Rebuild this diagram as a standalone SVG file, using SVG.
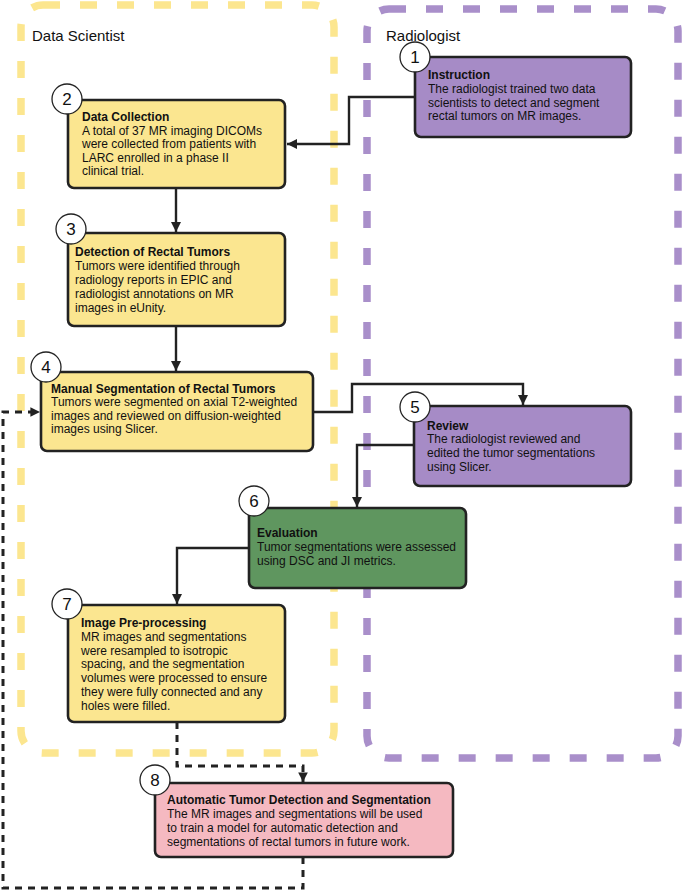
<svg xmlns="http://www.w3.org/2000/svg" width="685" height="893" viewBox="0 0 685 893">
<defs>
<style>
text{font-family:"Liberation Sans",Arial,sans-serif;fill:#111}
.lane{fill:none;stroke-width:7.5;stroke-dasharray:17 20}
.box{stroke:#222;stroke-width:2.6}
.t{font-size:12px}
.b{font-weight:bold}
.num{fill:#fff;stroke:#222;stroke-width:1.3}
.n{font-size:17px;text-anchor:middle}
.c{fill:none;stroke:#222;stroke-width:2.4}
.d{fill:none;stroke:#222;stroke-width:3;stroke-dasharray:7 6}
.hd{font-size:15px}
</style>
<marker id="ah" viewBox="0 0 10 10" refX="10" refY="5" markerWidth="4.2" markerHeight="4.2" orient="auto" markerUnits="strokeWidth"><path d="M0,0 L10,5 L0,10 z" fill="#222"/></marker>
<marker id="ahd" viewBox="0 0 10 10" refX="10" refY="5" markerWidth="3.2" markerHeight="3.2" orient="auto" markerUnits="strokeWidth"><path d="M0,0 L10,5 L0,10 z" fill="#222"/></marker>
</defs>
<rect width="685" height="893" fill="#fff"/>
<g id="lanes">
<rect class="lane" x="21" y="5" width="313" height="748" rx="22" stroke="#fce68f"/>
<rect class="lane" x="367" y="9" width="311" height="749" rx="22" stroke="#a98fca"/>
<text class="hd" x="32" y="41">Data Scientist</text>
<text class="hd" x="386" y="41">Radiologist</text>
</g>
<g id="connectors">
<path class="c" d="M415,97 H349 V144 H287" marker-end="url(#ah)"/>
<path class="c" d="M176,188 V232" marker-end="url(#ah)"/>
<path class="c" d="M176,326 V371" marker-end="url(#ah)"/>
<path class="c" d="M313,412 H352 V384 H523 V405" marker-end="url(#ah)"/>
<path class="c" d="M414,445 H357 V507" marker-end="url(#ah)"/>
<path class="c" d="M249,548 H177 V604" marker-end="url(#ah)"/>
<path class="d" d="M177,722 V766 H303 V782" marker-end="url(#ahd)"/>
<path class="d" d="M303,857 V888 H3 V412 H40" marker-end="url(#ahd)"/>
</g>
<g id="node1">
<rect class="box" x="415" y="57" width="216" height="80" rx="6" fill="#a68bc6"/>
<circle class="num" cx="415" cy="57" r="15"/>
<text class="n" x="415" y="63">1</text>
<text class="t b" x="428" y="79">Instruction</text>
<text class="t" x="428" y="93">The radiologist trained two data</text>
<text class="t" x="428" y="107">scientists to detect and segment</text>
<text class="t" x="428" y="120">rectal tumors on MR images.</text>
</g>
<g id="node2">
<rect class="box" x="68" y="100" width="217" height="88" rx="6" fill="#fbe690"/>
<circle class="num" cx="67" cy="99" r="15"/>
<text class="n" x="67" y="105">2</text>
<text class="t b" x="82" y="121">Data Collection</text>
<text class="t" x="82" y="135">A total of 37 MR imaging DICOMs</text>
<text class="t" x="82" y="148">were collected from patients with</text>
<text class="t" x="82" y="162">LARC enrolled in a phase II</text>
<text class="t" x="82" y="175">clinical trial.</text>
</g>
<g id="node3">
<rect class="box" x="68" y="233" width="217" height="93" rx="6" fill="#fbe690"/>
<circle class="num" cx="71" cy="229" r="15"/>
<text class="n" x="71" y="235">3</text>
<text class="t b" x="75" y="256">Detection of Rectal Tumors</text>
<text class="t" x="75" y="270">Tumors were identified through</text>
<text class="t" x="75" y="284">radiology reports in EPIC and</text>
<text class="t" x="75" y="298">radiologist annotations on MR</text>
<text class="t" x="75" y="312">images in eUnity.</text>
</g>
<g id="node4">
<rect class="box" x="41" y="372" width="272" height="79" rx="6" fill="#fbe690"/>
<circle class="num" cx="46" cy="367" r="15"/>
<text class="n" x="46" y="373">4</text>
<text class="t b" x="51" y="393">Manual Segmentation of Rectal Tumors</text>
<text class="t" x="51" y="406">Tumors were segmented on axial T2-weighted</text>
<text class="t" x="51" y="420">images and reviewed on diffusion-weighted</text>
<text class="t" x="51" y="433">images using Slicer.</text>
</g>
<g id="node5">
<rect class="box" x="414" y="406" width="217" height="80" rx="6" fill="#a68bc6"/>
<circle class="num" cx="415" cy="407" r="15"/>
<text class="n" x="415" y="413">5</text>
<text class="t b" x="427" y="430">Review</text>
<text class="t" x="427" y="443">The radiologist reviewed and</text>
<text class="t" x="427" y="457">edited the tumor segmentations</text>
<text class="t" x="427" y="471">using Slicer.</text>
</g>
<g id="node6">
<rect class="box" x="249" y="508" width="217" height="80" rx="6" fill="#5f965f"/>
<circle class="num" cx="254" cy="501" r="15"/>
<text class="n" x="254" y="507">6</text>
<text class="t b" x="257" y="537">Evaluation</text>
<text class="t" x="257" y="551">Tumor segmentations were assessed</text>
<text class="t" x="257" y="565">using DSC and JI metrics.</text>
</g>
<g id="node7">
<rect class="box" x="68" y="605" width="217" height="117" rx="6" fill="#fbe690"/>
<circle class="num" cx="67" cy="604" r="15"/>
<text class="n" x="67" y="610">7</text>
<text class="t b" x="81" y="627">Image Pre-processing</text>
<text class="t" x="81" y="641">MR images and segmentations</text>
<text class="t" x="81" y="655">were resampled to isotropic</text>
<text class="t" x="81" y="668">spacing, and the segmentation</text>
<text class="t" x="81" y="682">volumes were processed to ensure</text>
<text class="t" x="81" y="696">they were fully connected and any</text>
<text class="t" x="81" y="710">holes were filled.</text>
</g>
<g id="node8">
<rect class="box" x="155" y="783" width="298" height="74" rx="6" fill="#f5b9c1"/>
<circle class="num" cx="155" cy="780" r="15"/>
<text class="n" x="155" y="786">8</text>
<text class="t b" x="167" y="804">Automatic Tumor Detection and Segmentation</text>
<text class="t" x="167" y="818">The MR images and segmentations will be used</text>
<text class="t" x="167" y="832">to train a model for automatic detection and</text>
<text class="t" x="167" y="846">segmentations of rectal tumors in future work.</text>
</g>
</svg>
